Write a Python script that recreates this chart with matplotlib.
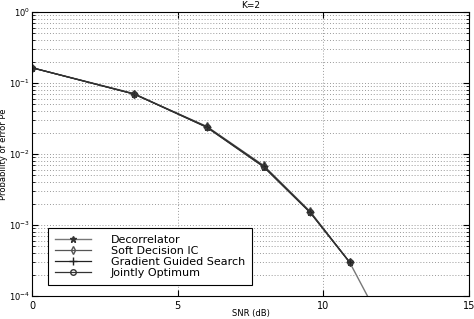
import numpy as np
import matplotlib.pyplot as plt
from matplotlib.ticker import LogLocator, FixedLocator, NullFormatter

# SNR points (dB) and error probabilities
snr = [0, 3.5, 6.0, 7.95, 9.55, 10.9]
snr_dec = [0, 3.5, 6.0, 7.95, 9.55, 10.9, 12.0]
pe_dec = [0.164, 0.071, 0.0238, 0.0066, 0.00150, 0.00030, 0.000042]
pe_sdic = [0.164, 0.070, 0.0245, 0.0069, 0.00155, 0.00030]
pe_ggs = [0.164, 0.070, 0.0240, 0.0067, 0.00150, 0.00030]
pe_opt = [0.164, 0.070, 0.0238, 0.0066, 0.00150, 0.00030]

fig = plt.figure(figsize=(4.74, 3.19), dpi=100)
ax = fig.add_axes([32 / 474, 23 / 319, 437 / 474, 284 / 319])

ax.semilogy(snr_dec, pe_dec, color='#777777', marker='*', ms=5, lw=1.0,
            mfc='#333333', mec='#333333', label='Decorrelator')
ax.semilogy(snr, pe_sdic, color='#555555', marker='d', ms=4, lw=0.9,
            mfc='none', mec='#555555', label='Soft Decision IC')
ax.semilogy(snr, pe_ggs, color='#222222', marker='+', ms=6, lw=0.9,
            mec='#222222', label='Gradient Guided Search')
ax.semilogy(snr, pe_opt, color='#333333', marker='o', ms=4, lw=0.9,
            mfc='none', mec='#333333', label='Jointly Optimum')

ax.set_xlim(0, 15)
ax.set_ylim(1e-4, 1)
ax.xaxis.set_major_locator(FixedLocator([0, 5, 10, 15]))
ax.yaxis.set_major_locator(LogLocator(base=10, numticks=10))
ax.yaxis.set_minor_locator(LogLocator(base=10, subs=np.arange(2, 10), numticks=20))
ax.yaxis.set_minor_formatter(NullFormatter())

ax.grid(True, which='major', axis='both', ls=(0, (1, 2)), lw=0.7, color='#999999')
ax.grid(True, which='minor', axis='y', ls=(0, (1, 2)), lw=0.7, color='#999999')
ax.tick_params(which='both', direction='in', top=True, right=True, labelsize=7)
ax.tick_params(axis='y', pad=1.5, labelsize=6)
ax.tick_params(which='major', length=4)
ax.tick_params(which='minor', length=2)
for s in ax.spines.values():
    s.set_linewidth(0.8)

ax.set_title('K=2', fontsize=6.5, pad=3)
ax.set_xlabel('SNR (dB)', fontsize=6, labelpad=-1)
ax.set_ylabel('Probability of error Pe', fontsize=6, labelpad=0)
ax.yaxis.set_label_coords(-0.055, 0.5)

leg = ax.legend(loc='lower left', bbox_to_anchor=(0.025, 0.02), fontsize=8,
                frameon=True, fancybox=False, edgecolor='black',
                handlelength=3.2, handletextpad=1.8, labelspacing=0.1,
                borderpad=0.6, framealpha=1)
leg.get_frame().set_linewidth(0.8)

fig.savefig('out.png', dpi=100)
